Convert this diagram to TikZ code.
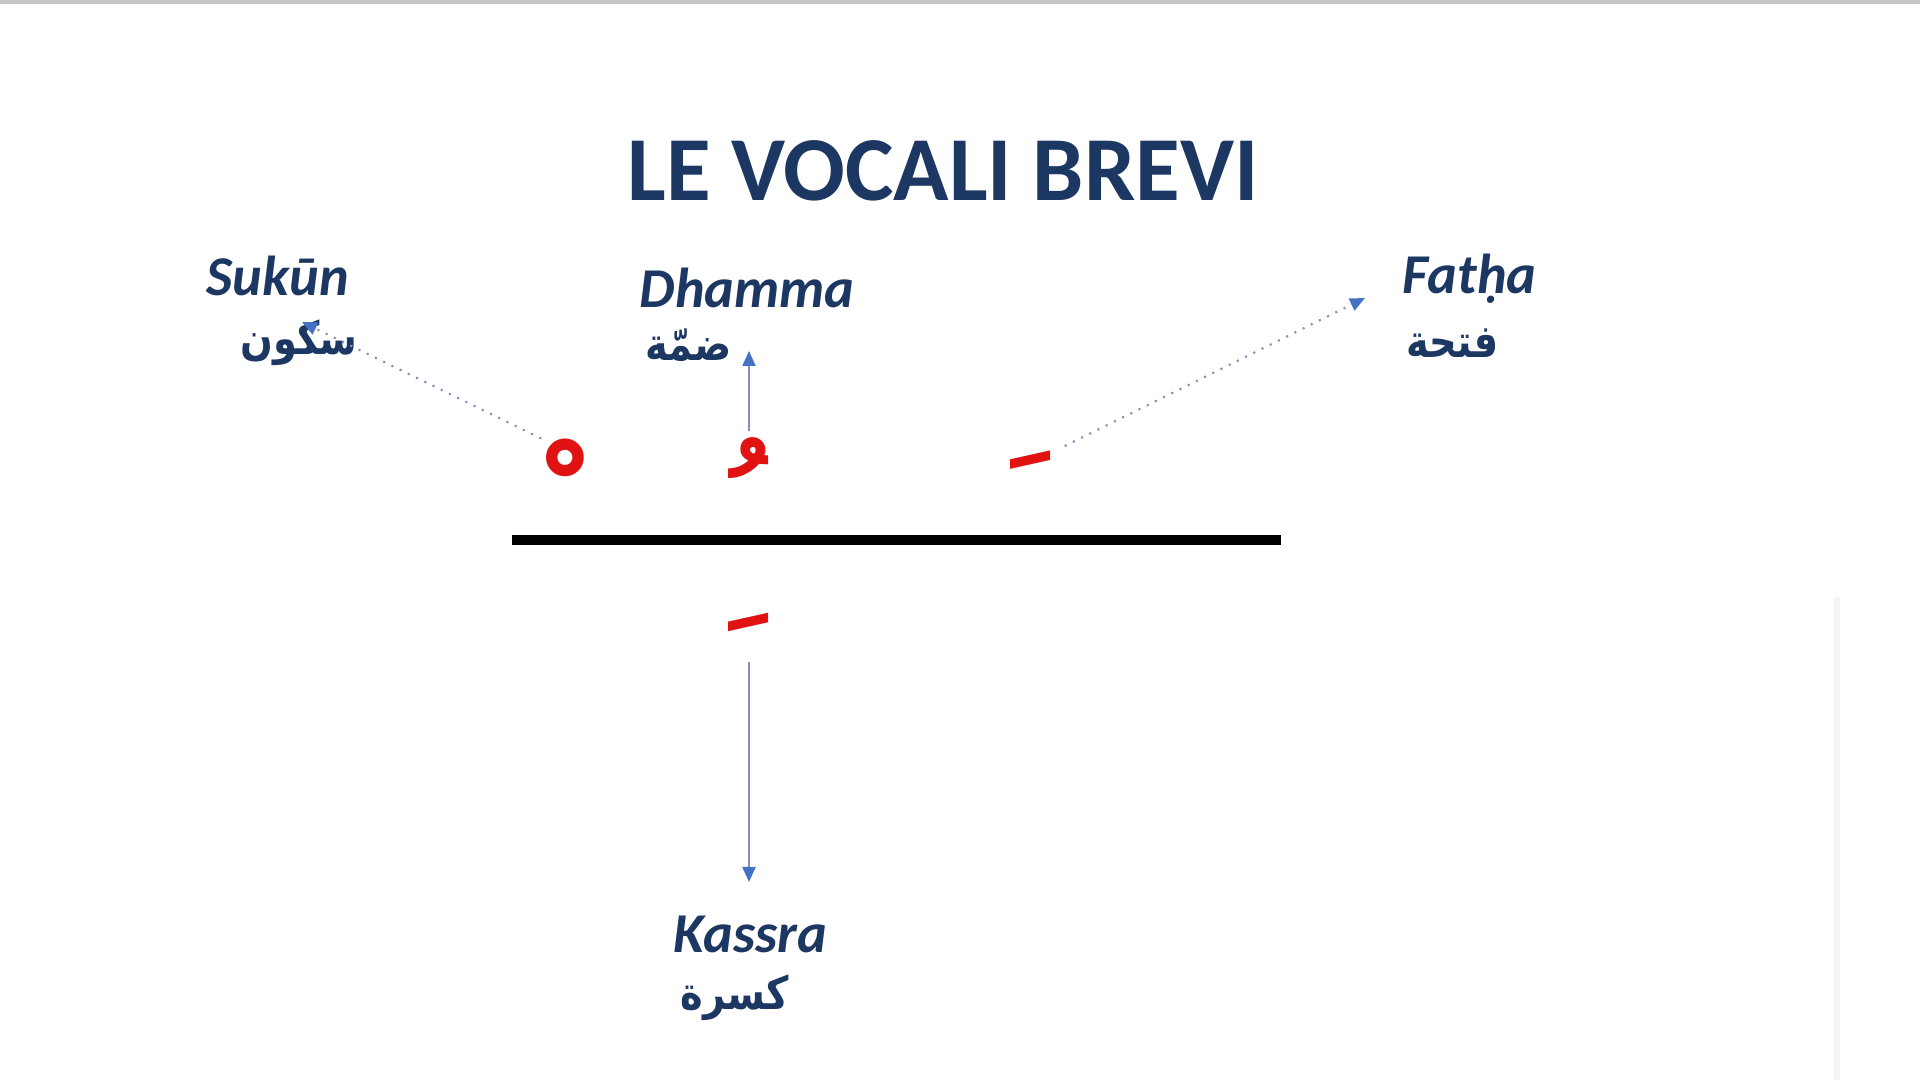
\documentclass[tikz,border=0pt]{standalone}
\usepackage{fontspec}
\setmainfont{Carlito}
\newfontfamily\arabicfont[Script=Arabic]{DejaVu Sans}
\TeXXeTstate=1
\usetikzlibrary{arrows.meta, positioning}
\definecolor{titleblue}{RGB}{28,56,98}
\definecolor{markred}{RGB}{225,18,18}
\definecolor{linkgray}{RGB}{130,145,180}
\definecolor{tipblue}{RGB}{68,114,196}

\begin{document}
\begin{tikzpicture}[x = 0.01cm, y = -0.01cm]
        \tikzstyle{heading} = [font = \fontsize{26}{30}\selectfont\bfseries, text = titleblue, inner sep = 0pt]
        \tikzstyle{vowelname} = [font = \fontsize{16}{19}\selectfont\bfseries\itshape, text = titleblue, inner sep = 0pt, anchor = west]
        \tikzstyle{arname} = [font = \arabicfont\fontsize{13}{16}\selectfont\bfseries, text = titleblue, inner sep = 0pt, anchor = west, xscale = 0.84, transform shape]
        \tikzstyle{vowel} = [font = \arabicfont\fontsize{40}{40}\selectfont\bfseries, text = markred, inner sep = 0pt]
        \tikzstyle{connect} = [-{Triangle[length = 1.5mm, width = 1.3mm, color = tipblue]}, draw = linkgray, line width = 0.6pt]
        \tikzstyle{dotconnect} = [connect, dotted]
        \useasboundingbox (0,0) rectangle (1920,1080);
        \draw[gray!45, line width = 1.5pt] (0,1) -- (1920,1);
        \draw[gray!8, line width = 1.5pt] (1837,597) -- (1837,1080);
        % title and base line
        \node[heading] (title) at (943,171) {LE VOCALI BREVI};
        \coordinate (lineleft) at (512,540);
        \coordinate (lineright) at (1281,540);
        \draw[black, line width = 1.05mm] (lineleft) -- (lineright);
        % the four vowel marks
        \node[vowel] (sukunmark) at (566,501) {ﹾ};
        \node[vowel] (dhammamark) at (749,499) {ﹸ};
        \node[vowel] (fathamark) at (1031,502) {ﹶ};
        \node[vowel] (kassramark) at (749,622) {ﹺ};
        % their names
        \node[vowelname] (sukun) at (206,276) {Sukūn};
        \node[arname] (sukunar) at (240,343) {\beginR سكون\endR};
        \node[vowelname] (dhamma) at (639,288) {Dhamma};
        \node[arname] (dhammaar) at (645,345) {\beginR ضمّة\endR};
        \node[vowelname] (fatha) at (1402,279) {Fatḥa};
        \node[arname] (fathaar) at (1406,343) {\beginR فتحة\endR};
        \node[vowelname] (kassra) at (673,934) {Kassra};
        \node[arname] (kassraar) at (680,998) {\beginR كسرة\endR};
        % arrows
        \coordinate (sukuntip) at (302,322);
        \coordinate (dhammatip) at (dhammamark.north |- 0,351);
        \coordinate (fathatip) at (1365,298);
        \coordinate (kassratip) at (749,882);
        \draw[dotconnect] (sukunmark.north west) -- (sukuntip);
        \draw[connect, shorten <= 0.5mm] (dhammamark.north) -- (dhammatip);
        \draw[dotconnect, shorten <= 1mm] (fathamark.north east) -- (fathatip);
        \draw[connect, shorten <= 3mm] (kassramark.south) -- (kassratip);
\end{tikzpicture}
\end{document}
